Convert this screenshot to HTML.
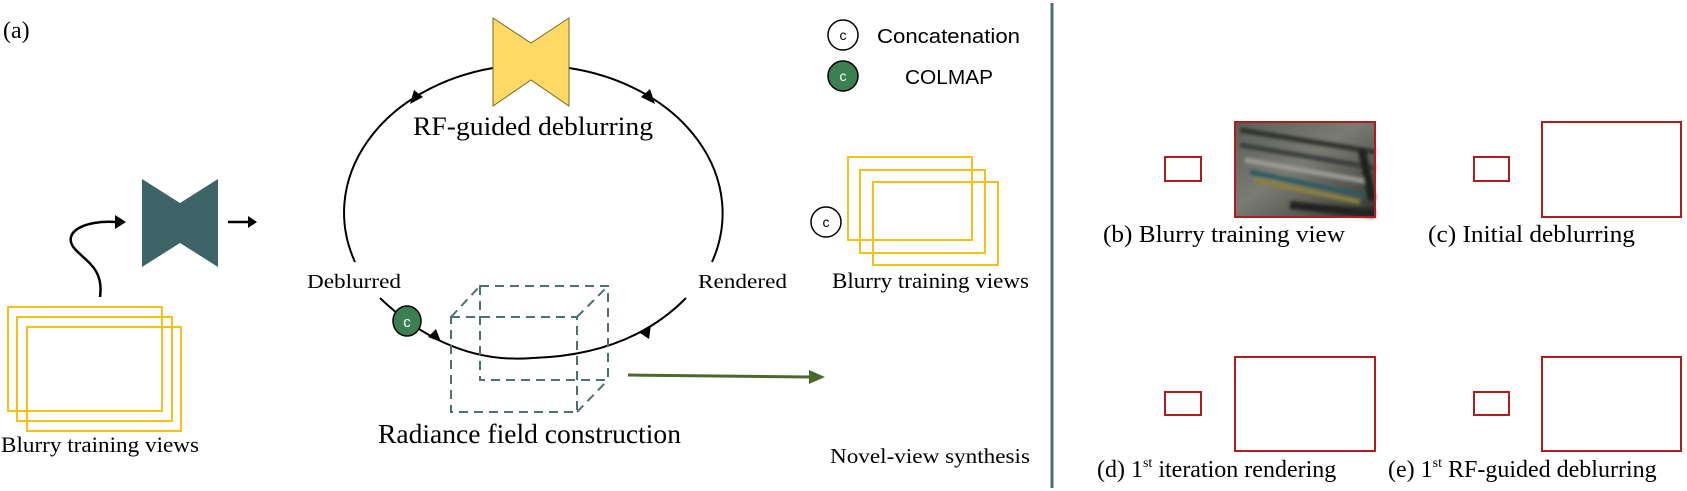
<!DOCTYPE html>
<html><head><meta charset="utf-8"><style>
html,body{margin:0;padding:0;background:#fff;}
svg{display:block;}
.s{font-family:"Liberation Serif",serif;fill:#000;}
.a{font-family:"Liberation Sans",sans-serif;fill:#000;}
</style></head><body>
<svg width="1687" height="491" viewBox="0 0 1687 491" xmlns="http://www.w3.org/2000/svg">
<defs>
<linearGradient id="g" x1="0" y1="0" x2="1" y2="1">
<stop offset="0" stop-color="#5a5e58"/><stop offset="0.45" stop-color="#7a7c74"/><stop offset="0.75" stop-color="#55574f"/><stop offset="1" stop-color="#2e302a"/>
</linearGradient>
<filter id="bl"><feGaussianBlur stdDeviation="1.5"/></filter>
</defs>
<text class="s" x="3" y="38" font-size="24">(a)</text>

<path d="M355,262 A190,148 0 0 1 493,68" fill="none" stroke="#000" stroke-width="2"/>
<path d="M569,68 A190,148 0 0 1 712,262" fill="none" stroke="#000" stroke-width="2"/>
<path d="M380,298 Q450,365 533,358 Q630,355 686,298" fill="none" stroke="#000" stroke-width="2"/>
<polygon points="410,104 414,90 423,97" fill="#000"/>
<polygon points="655,104 641,97 650,89" fill="#000"/>
<polygon points="441,342 428,337 436,329" fill="#000"/>
<polygon points="651,325 649,339 640,333" fill="#000"/>

<polygon points="493,18 531,43 569,18 569,106 531,80 493,106" fill="#ffd966" stroke="#7a6a20" stroke-width="1"/>
<text class="s" x="413" y="135" font-size="26" textLength="240" lengthAdjust="spacingAndGlyphs">RF-guided deblurring</text>

<polygon points="142,179 180,203 218,179 218,267 180,243 142,267" fill="#3d6467"/>
<line x1="228" y1="222" x2="250" y2="222" stroke="#000" stroke-width="2.5"/>
<polygon points="257,222 248,216 248,228" fill="#000"/>
<path d="M100,297 C104,268 86,262 74,248 C62,232 84,220 116,222" fill="none" stroke="#000" stroke-width="2.5"/>
<polygon points="126,222 115,215 115,229" fill="#000"/>

<rect x="8" y="307" width="154" height="104" fill="none" stroke="#f5c116" stroke-width="2"/>
<rect x="17" y="317" width="155" height="104" fill="none" stroke="#f5c116" stroke-width="2"/>
<rect x="27" y="327" width="154" height="104" fill="none" stroke="#f5c116" stroke-width="2"/>
<text class="s" x="1" y="452" font-size="22" textLength="198" lengthAdjust="spacingAndGlyphs">Blurry training views</text>

<text class="s" x="307" y="288" font-size="20" textLength="94" lengthAdjust="spacingAndGlyphs">Deblurred</text>
<text class="s" x="698" y="288" font-size="20" textLength="89" lengthAdjust="spacingAndGlyphs">Rendered</text>

<ellipse cx="407" cy="321" rx="14" ry="15" fill="#3a8050" stroke="#000" stroke-width="1.5"/>
<text class="a" x="407" y="327" font-size="15" text-anchor="middle" style="fill:#fff">c</text>

<g fill="none" stroke="#4d7070" stroke-width="2" stroke-dasharray="9,6">
<rect x="451" y="317" width="126" height="95"/>
<rect x="480" y="286" width="128" height="94"/>
<line x1="451" y1="317" x2="480" y2="286"/>
<line x1="577" y1="317" x2="608" y2="286"/>
<line x1="577" y1="412" x2="608" y2="380"/>
</g>
<text class="s" x="378" y="443" font-size="27" textLength="303" lengthAdjust="spacingAndGlyphs">Radiance field construction</text>

<line x1="628" y1="375" x2="810" y2="377" stroke="#4a6a2a" stroke-width="3"/>
<polygon points="825,377 809,370 809,384" fill="#4a6a2a"/>

<circle cx="843" cy="35" r="15" fill="#fff" stroke="#000" stroke-width="1.5"/>
<text class="a" x="843" y="40" font-size="14" text-anchor="middle">c</text>
<text class="a" x="877" y="43" font-size="20" textLength="143" lengthAdjust="spacingAndGlyphs">Concatenation</text>
<circle cx="843" cy="76" r="15" fill="#3a8050" stroke="#000" stroke-width="1.5"/>
<text class="a" x="843" y="81" font-size="14" text-anchor="middle" style="fill:#fff">c</text>
<text class="a" x="905" y="84" font-size="20" textLength="88" lengthAdjust="spacingAndGlyphs">COLMAP</text>

<circle cx="826" cy="222" r="15" fill="#fff" stroke="#000" stroke-width="1.5"/>
<text class="a" x="826" y="227" font-size="14" text-anchor="middle">c</text>
<rect x="848" y="157" width="124" height="83" fill="none" stroke="#f5c116" stroke-width="2"/>
<rect x="860" y="170" width="125" height="83" fill="none" stroke="#f5c116" stroke-width="2"/>
<rect x="873" y="182" width="125" height="83" fill="none" stroke="#f5c116" stroke-width="2"/>
<text class="s" x="832" y="288" font-size="22" textLength="197" lengthAdjust="spacingAndGlyphs">Blurry training views</text>
<text class="s" x="830" y="463" font-size="21" textLength="200" lengthAdjust="spacingAndGlyphs">Novel-view synthesis</text>

<line x1="1052" y1="3" x2="1052" y2="488" stroke="#4f6f72" stroke-width="3"/>

<g fill="none" stroke="#b01c1c" stroke-width="2">
<rect x="1165" y="157" width="36" height="24"/>
<rect x="1474" y="157" width="35" height="24"/>
<rect x="1542" y="122" width="139" height="95"/>
<rect x="1165" y="392" width="36" height="23"/>
<rect x="1235" y="357" width="140" height="94"/>
<rect x="1474" y="392" width="35" height="23"/>
<rect x="1542" y="357" width="139" height="94"/>
</g>
<rect x="1235" y="122" width="140" height="95" fill="url(#g)"/>
<g stroke-width="5" fill="none" filter="url(#bl)">
<line x1="1240" y1="130" x2="1375" y2="152" stroke="#2e302c"/>
<line x1="1240" y1="145" x2="1375" y2="168" stroke="#3a3e3a"/>
<line x1="1245" y1="160" x2="1370" y2="182" stroke="#9a9c94"/>
<line x1="1250" y1="172" x2="1365" y2="196" stroke="#2f5a60"/>
<line x1="1255" y1="180" x2="1360" y2="202" stroke="#8a8040"/>
<line x1="1290" y1="205" x2="1375" y2="214" stroke="#202220" stroke-width="8"/>
<line x1="1362" y1="150" x2="1372" y2="200" stroke="#1e201c" stroke-width="8"/>
</g>
<rect x="1235" y="122" width="140" height="95" fill="none" stroke="#b01c1c" stroke-width="2"/>

<text class="s" x="1103" y="242" font-size="24" textLength="242" lengthAdjust="spacingAndGlyphs">(b) Blurry training view</text>
<text class="s" x="1428" y="242" font-size="24" textLength="207" lengthAdjust="spacingAndGlyphs">(c) Initial deblurring</text>
<text class="s" x="1097" y="477" font-size="24">(d) 1<tspan font-size="14" dy="-10">st</tspan><tspan dy="10"> iteration rendering</tspan></text>
<text class="s" x="1388" y="477" font-size="24">(e) 1<tspan font-size="14" dy="-10">st</tspan><tspan dy="10"> RF-guided deblurring</tspan></text>
</svg>
</body></html>
